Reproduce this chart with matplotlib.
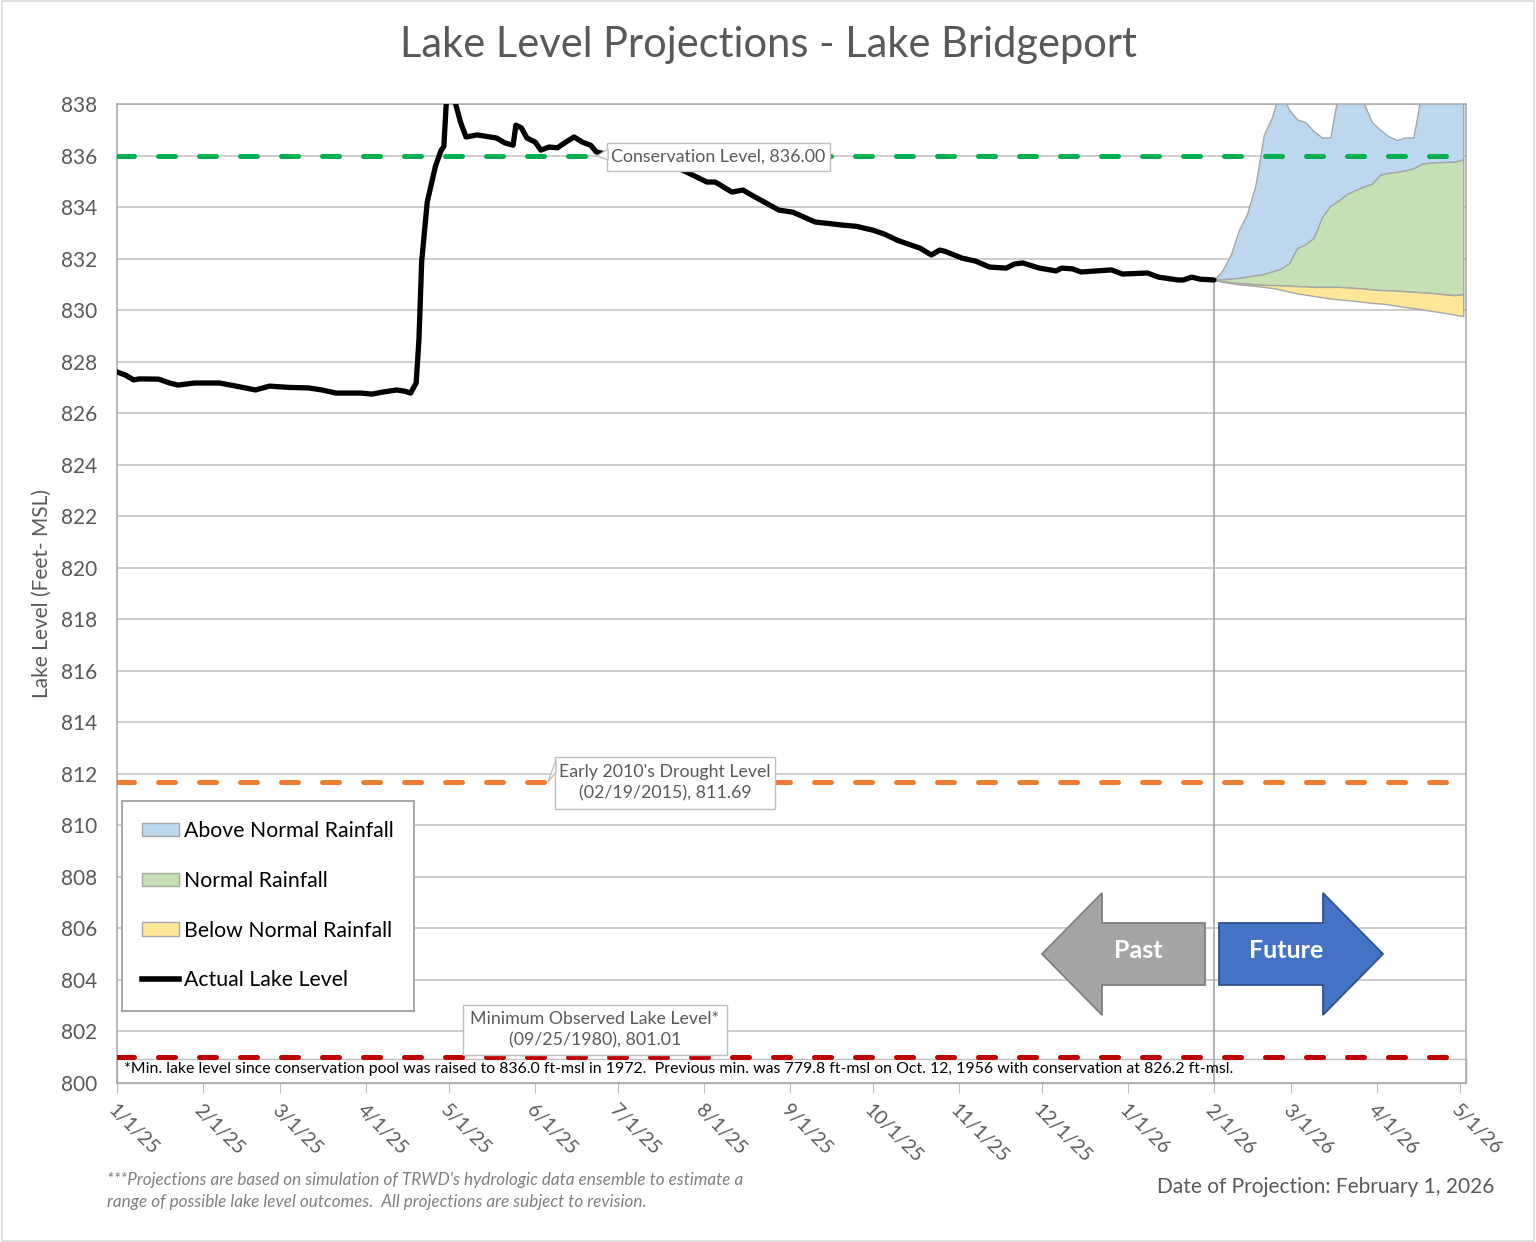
import pandas as pd
import matplotlib
matplotlib.use("Agg")
import matplotlib.pyplot as plt
from matplotlib.patches import Polygon, Rectangle, Patch
from matplotlib.lines import Line2D

plt.rcParams['font.family'] = ['Lato', 'DejaVu Sans']

# ---- data ----
actual_dates = [
    "2025-01-01", "2025-01-04", "2025-01-07", "2025-01-09", "2025-01-16", "2025-01-20",
    "2025-01-23", "2025-01-29", "2025-02-07", "2025-02-13", "2025-02-20", "2025-02-25",
    "2025-03-04", "2025-03-11", "2025-03-16", "2025-03-21", "2025-03-30", "2025-04-03",
    "2025-04-07", "2025-04-12", "2025-04-15", "2025-04-17", "2025-04-19", "2025-04-20",
    "2025-04-21", "2025-04-23", "2025-04-26", "2025-04-28", "2025-04-29", "2025-04-30",
    "2025-05-02", "2025-05-03", "2025-05-05", "2025-05-07", "2025-05-11", "2025-05-18",
    "2025-05-21", "2025-05-24", "2025-05-25", "2025-05-27", "2025-05-29", "2025-06-01",
    "2025-06-03", "2025-06-06", "2025-06-09", "2025-06-12", "2025-06-15", "2025-06-18",
    "2025-06-21", "2025-06-23", "2025-07-01", "2025-07-10", "2025-07-19", "2025-07-24",
    "2025-08-02", "2025-08-05", "2025-08-11", "2025-08-15", "2025-08-18", "2025-08-28",
    "2025-09-02", "2025-09-10", "2025-09-20", "2025-09-25", "2025-10-01", "2025-10-05",
    "2025-10-10", "2025-10-18", "2025-10-22", "2025-10-25", "2025-10-27", "2025-11-02",
    "2025-11-07", "2025-11-12", "2025-11-18", "2025-11-21", "2025-11-24", "2025-11-30",
    "2025-12-06", "2025-12-08", "2025-12-12", "2025-12-15", "2025-12-26", "2025-12-30",
    "2026-01-08", "2026-01-12", "2026-01-19", "2026-01-21", "2026-01-24", "2026-01-27",
    "2026-02-01",
]
actual_level = [
    827.60, 827.48, 827.29, 827.33, 827.32, 827.17,
    827.09, 827.17, 827.17, 827.05, 826.90, 827.05,
    827.00, 826.98, 826.90, 826.78, 826.78, 826.74,
    826.82, 826.90, 826.85, 826.78, 827.17, 828.84,
    831.90, 834.20, 835.60, 836.20, 836.35, 838.30,
    839.50, 838.10, 837.30, 836.72, 836.80, 836.68,
    836.49, 836.40, 837.18, 837.07, 836.68, 836.52,
    836.21, 836.33, 836.30, 836.52, 836.72, 836.52,
    836.40, 836.14, 835.95, 835.80, 835.63, 835.44,
    834.97, 834.97, 834.58, 834.66, 834.47, 833.88,
    833.80, 833.42, 833.30, 833.25, 833.10, 832.95,
    832.70, 832.40, 832.14, 832.33, 832.28, 832.02,
    831.90, 831.67, 831.63, 831.79, 831.83, 831.63,
    831.52, 831.63, 831.60, 831.48, 831.56, 831.40,
    831.44, 831.28, 831.17, 831.17, 831.28, 831.20,
    831.17,
]

proj_dates = pd.date_range("2026-02-01", periods=31, freq="3D")
above_normal = [831.17, 831.53, 832.13, 833.1, 833.75, 834.85, 836.8, 837.5, 838.6, 837.8,
                837.4, 837.3, 836.95, 836.7, 836.7, 838.5, 839.0, 839.0, 838.05, 837.3,
                837.0, 836.75, 836.6, 836.7, 836.7, 838.5, 839.0, 839.0, 839.0, 839.0, 839.0]
normal = [831.17, 831.2, 831.22, 831.25, 831.3, 831.35, 831.4, 831.5, 831.6, 831.8,
          832.4, 832.55, 832.8, 833.6, 834.05, 834.25, 834.5, 834.65, 834.8, 834.9,
          835.25, 835.33, 835.36, 835.42, 835.5, 835.68, 835.72, 835.74, 835.75, 835.76, 835.85]
below_normal_hi = [831.17, 831.12, 831.08, 831.05, 831.03, 831.0, 830.98, 830.97, 830.96, 830.95,
                   830.93, 830.92, 830.9, 830.9, 830.9, 830.9, 830.88, 830.86, 830.84, 830.8,
                   830.78, 830.77, 830.75, 830.73, 830.71, 830.69, 830.67, 830.64, 830.6, 830.58, 830.62]
below_normal_lo = [831.17, 831.1, 831.05, 831.0, 830.97, 830.94, 830.9, 830.86, 830.8, 830.72,
                   830.65, 830.6, 830.55, 830.5, 830.45, 830.42, 830.39, 830.36, 830.32, 830.28,
                   830.26, 830.22, 830.17, 830.12, 830.08, 830.03, 829.98, 829.93, 829.88, 829.82, 829.77]

conservation_level = 836.00
drought_level = 811.69
minimum_level = 801.01

tick_dates = pd.date_range("2025-01-01", "2026-05-01", freq="MS")
tick_labels = [f"{d.month}/{d.day}/{d.year % 100}" for d in tick_dates]

# ---- figure ----
W, H = 1536, 1242
fig = plt.figure(figsize=(W / 100, H / 100), dpi=100)


def fx(px):
    return px / W


def fy(py):
    return 1 - py / H


ax = fig.add_axes([fx(117), fy(1083), (1466 - 117) / W, (1083 - 104) / H])

grey_txt = "#595959"
ax.set_ylim(800, 838)
ax.set_xlim(pd.Timestamp("2025-01-01"), pd.Timestamp("2026-05-03"))
ax.set_yticks(range(800, 839, 2))
ax.yaxis.grid(True, color="#C0C0C0", lw=1.1, zorder=0)
ax.set_axisbelow(True)
ax.tick_params(axis="y", length=0, labelsize=15, labelcolor=grey_txt, pad=14)
ax.set_xticks(tick_dates)
ax.set_xticklabels(tick_labels, rotation=-45, ha="left", va="top",
                   rotation_mode="anchor", fontsize=14, color=grey_txt)
ax.tick_params(axis="x", length=7, color="#BFBFBF", pad=6)
for s in ax.spines.values():
    s.set_color("#A6A6A6")
    s.set_linewidth(1.1)
ax.set_ylabel("Lake Level (Feet- MSL)", fontsize=15, color=grey_txt, labelpad=7)

# projection bands
edge = "#A6A6A6"
ax.fill_between(proj_dates, normal, above_normal, facecolor="#BDD7EE", edgecolor=edge, lw=1, zorder=2)
ax.fill_between(proj_dates, below_normal_hi, normal, facecolor="#C5E0B4", edgecolor=edge, lw=1, zorder=2)
ax.fill_between(proj_dates, below_normal_lo, below_normal_hi, facecolor="#FFE699", edgecolor=edge, lw=1, zorder=2)

# footnote strip inside plot (under the red line and divider)
ax.add_patch(Rectangle((fx(117), fy(1083)), (1466 - 117) / W, 24 / H, transform=fig.transFigure,
                       facecolor="white", edgecolor="#BFBFBF", lw=1, zorder=1, clip_on=False))
ax.text(fx(124), fy(1069), "*Min. lake level since conservation pool was raised to 836.0 ft-msl in 1972.  "
        "Previous min. was 779.8 ft-msl on Oct. 12, 1956 with conservation at 826.2 ft-msl.",
        transform=fig.transFigure, fontsize=11.4, color="black", va="center", ha="left", zorder=6)

# divider at projection date
ax.vlines(proj_dates[0], 800, normal[0], color="#A6A6A6", lw=1.2, zorder=2)

# reference levels
dash = (0, (3.4, 4.8))
for lvl, col in [(conservation_level, "#00B050"), (drought_level, "#ED7D31"), (minimum_level, "#C00000")]:
    ax.axhline(lvl, color=col, lw=3.6, linestyle=dash, dash_capstyle="round", zorder=3)

# actual level
ax.plot(pd.to_datetime(actual_dates), actual_level, color="black", lw=3.8,
        solid_capstyle="round", solid_joinstyle="round", zorder=5)


def callout(x0, y0, x1, y1, lines, tail=None):
    fig.patches.append(Rectangle((fx(x0), fy(y1)), (x1 - x0) / W, (y1 - y0) / H, transform=fig.transFigure,
                                 facecolor="white", edgecolor="#BFBFBF", lw=1, zorder=7))
    if tail is not None:
        fig.patches.append(Polygon([(fx(px), fy(py)) for px, py in tail], closed=True,
                                   transform=fig.transFigure, facecolor="white",
                                   edgecolor="#BFBFBF", lw=1, zorder=7))
    fig.text(fx((x0 + x1) / 2), fy((y0 + y1) / 2), lines, ha="center", va="center",
             fontsize=12.8, color=grey_txt, linespacing=1.4, zorder=8)


callout(607, 143, 830, 171, "Conservation Level, 836.00", tail=[(608, 149), (597, 156), (608, 160)])
callout(555, 757, 775, 809, "Early 2010's Drought Level\n(02/19/2015), 811.69",
        tail=[(556, 760), (548, 782), (556, 772)])
callout(463, 1005, 727, 1055, "Minimum Observed Lake Level*\n(09/25/1980), 801.01")

# legend
handles = [Patch(facecolor="#BDD7EE", edgecolor=edge),
           Patch(facecolor="#C5E0B4", edgecolor=edge),
           Patch(facecolor="#FFE699", edgecolor=edge),
           Line2D([], [], color="black", lw=4)]
labels = ["Above Normal Rainfall", "Normal Rainfall", "Below Normal Rainfall", "Actual Lake Level"]
leg = ax.legend(handles, labels, loc="upper left",
                bbox_to_anchor=((122 - 117) / 1349, (1083 - 801) / 979),
                fontsize=15.3, frameon=True, fancybox=False, framealpha=1, edgecolor="#A6A6A6",
                handlelength=1.75, handleheight=0.6, handletextpad=0.2, labelspacing=1.4,
                borderpad=0.95, borderaxespad=0)
leg.get_frame().set_linewidth(1.4)
leg.set_zorder(9)

# past / future arrows
past = [(1042, 954), (1102, 893), (1102, 923), (1205, 923), (1205, 985), (1102, 985), (1102, 1015)]
future = [(1219, 923), (1323, 923), (1323, 893), (1383, 954), (1323, 1015), (1323, 985), (1219, 985)]
fig.patches.append(Polygon([(fx(a), fy(b)) for a, b in past], closed=True, transform=fig.transFigure,
                           facecolor="#A5A5A5", edgecolor="#7F7F7F", lw=1.3, zorder=6))
fig.patches.append(Polygon([(fx(a), fy(b)) for a, b in future], closed=True, transform=fig.transFigure,
                           facecolor="#4472C4", edgecolor="#2F528F", lw=1.3, zorder=6))
fig.text(fx(1138), fy(950), "Past", color="white", fontsize=18, fontweight="bold", ha="center", va="center", zorder=7)
fig.text(fx(1286), fy(950), "Future", color="white", fontsize=18, fontweight="bold", ha="center", va="center", zorder=7)

# titles and notes
fig.text(0.5, fy(45), "Lake Level Projections - Lake Bridgeport", ha="center", va="center",
         fontsize=30, color=grey_txt)
fig.text(fx(107), fy(1180), "***Projections are based on simulation of TRWD's hydrologic data ensemble to estimate a",
         fontsize=12.3, style="italic", color="#7F7F7F", va="center")
fig.text(fx(107), fy(1202), "range of possible lake level outcomes.  All projections are subject to revision.",
         fontsize=12.3, style="italic", color="#7F7F7F", va="center")
fig.text(fx(1494), fy(1187), "Date of Projection: February 1, 2026", ha="right", va="center",
         fontsize=15, color=grey_txt)

# chart border
fig.patches.append(Rectangle((0.001, 0.001), 0.998, 0.998, transform=fig.transFigure,
                             facecolor="none", edgecolor="#D9D9D9", lw=1.2))

fig.savefig("out.png", dpi=100)
